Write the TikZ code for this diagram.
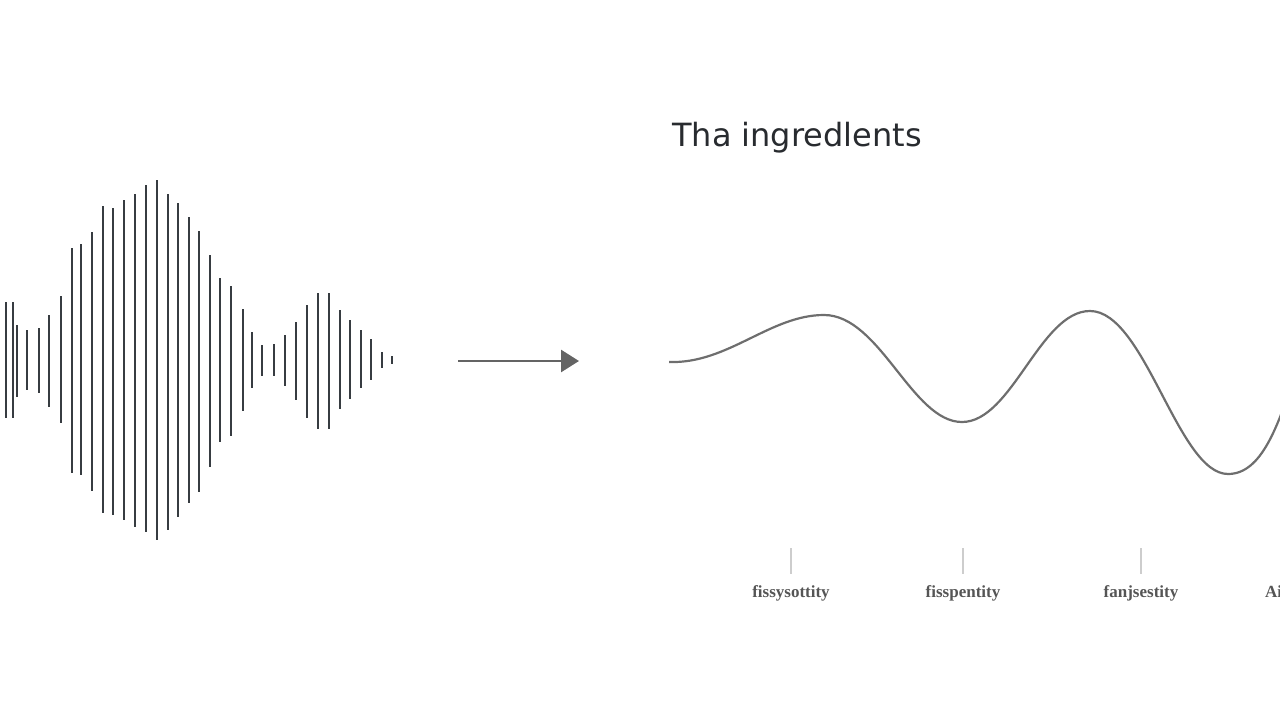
\documentclass[tikz,border=0pt]{standalone}
\usepackage{fontspec}
\setmainfont{Liberation Serif}
\newfontfamily\titlefont{DejaVu Sans}
\usepackage{tikz}
\usetikzlibrary{arrows.meta,positioning}
\definecolor{barink}{RGB}{55,60,65}
\definecolor{waveink}{RGB}{110,110,110}
\definecolor{arrowink}{RGB}{100,100,100}
\definecolor{tickink}{RGB}{205,205,205}
\definecolor{labelink}{RGB}{85,85,85}
\definecolor{titleink}{RGB}{40,43,47}

\begin{document}
\begin{tikzpicture}[x=1pt, y=-1pt,
  signalbar/.style={draw=barink, line width=2.8pt},
  wavecurve/.style={draw=waveink, line width=2.2pt},
  flowarrow/.style={draw=arrowink, line width=2.8pt, -{Triangle[length=18pt, width=22pt]}},
  tickmark/.style={draw=tickink, line width=1.6pt},
  freqlabel/.style={font=\bfseries\fontsize{17}{17}\selectfont, text=labelink, anchor=base, inner sep=0pt}]
\useasboundingbox (0,0) rectangle (1280,720);
% Signal bars
\foreach \bx/\btop/\bbot in {6/302/418, 13/302/418, 17/325/397, 27/330/390, 39/328/393,
    49/315/407, 61/296/423, 72/248/473, 81/244/475, 92/232/491, 103/206/513,
    113/208/515, 124/200/520, 135/194/527, 146/185/532, 157/180/540, 168/194/530,
    178/203/517, 189/217/503, 199/231/492, 210/255/467, 220/278/442, 231/286/436,
    243/309/411, 252/332/388, 262/345/376, 274/344/376, 285/335/386, 296/322/400,
    307/305/418, 318/293/429, 329/293/429, 340/310/409, 350/320/399, 361/330/388,
    371/339/380, 382/352/368, 392/356/364}
  \draw[signalbar] (\bx,\btop) -- (\bx,\bbot);
% Arrow
\coordinate (src) at (458,361);
\coordinate (dst) at (579,361);
\draw[flowarrow] (src) -- (dst);
% Title
\node[font=\titlefont\fontsize{32}{32}\selectfont, text=titleink, anchor=base west, inner sep=0pt] (title) at (672,146) {Tha ingredlents};
% Wave
\begin{scope}
\clip (0,0) rectangle (1280,720);
\draw[wavecurve] (669,362) .. controls (728,364) and (770,315) .. (824,315)
  .. controls (880,315) and (912,422) .. (962,422)
  .. controls (1012,422) and (1040,311) .. (1090,311)
  .. controls (1145,311) and (1178,474) .. (1228,474)
  .. controls (1262,474) and (1278,425) .. (1295,375);
\end{scope}
% Ticks and labels
\foreach \tx/\tname/\ttext in {791/fa/fissysottity, 963/fb/fisspentity, 1141/fc/fanjsestity} {
  \coordinate (\tname top) at (\tx,548);
  \coordinate (\tname bot) at (\tx,574);
  \draw[tickmark] (\tname top) -- (\tname bot);
  \node[freqlabel] (\tname) at (\tx,597) {\ttext};
}
\node[freqlabel, anchor=base west] (fd) at (1265,597) {Ai};
\end{tikzpicture}
\end{document}
